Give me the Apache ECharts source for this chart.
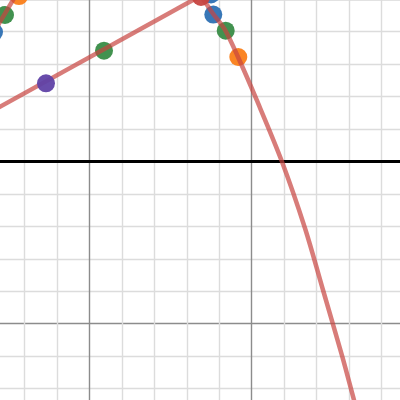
<!DOCTYPE html>
<html>
<head>
<meta charset="utf-8">
<script src="https://cdn.jsdelivr.net/npm/echarts@6/dist/echarts.min.js"></script>
<style>
  html, body { margin: 0; padding: 0; background: #ffffff; }
  #chart { width: 400px; height: 400px; }
</style>
</head>
<body>
<div id="chart"></div>
<script>
// Curve pieces (x, y in graph units)
var curveLeft = [[2.087, 1.603], [8.431, 5.111]];
var curveRight = [
  [8.431, 5.111], [8.560, 4.926], [8.816, 4.547], [9.177, 4.054],
  [9.578, 3.221], [10.154, 1.896], [10.925, 0.015], [11.643, -2.059],
  [12.207, -3.992], [12.793, -6.017], [13.153, -7.352], [13.246, -7.691]
];
var curveBranch = [[2.15, 4.15], [2.75, 5.16]];

// Points
var bluePoints = [[2.056, 3.99], [8.745, 5.148], [8.816, 4.531]];
var greenPoints = [[2.395, 4.516], [5.447, 3.416], [9.199, 4.032]];
var orangePoints = [[2.827, 5.10], [9.587, 3.221]];
var purplePoints = [[3.659, 2.41]];
var redPoints = [[8.437, 5.071]];

var chart = echarts.init(document.getElementById('chart'), null, { renderer: 'canvas' });

var curveStyle = { color: '#c74440', width: 4.5, opacity: 0.7 };
function dotSeries(data, color, z) {
  return {
    type: 'scatter', data: data, symbol: 'circle', symbolSize: 18,
    itemStyle: { color: color, opacity: 0.95 }, z: z, silent: true
  };
}

chart.setOption({
  animation: false,
  backgroundColor: '#ffffff',
  grid: {
    left: -72.7, right: -13.9, top: -162.9, bottom: -85.9,
    containLabel: false, outerBoundsMode: 'none'
  },
  xAxis: {
    type: 'value', min: 0, max: 15, interval: 5,
    axisLine: { show: true, onZero: true, lineStyle: { color: '#000000', width: 3 } },
    axisTick: { show: false },
    axisLabel: { show: false },
    splitLine: { show: true, lineStyle: { color: '#8c8c8c', width: 1.4 } },
    minorTick: { show: false, splitNumber: 5 },
    minorSplitLine: { show: true, lineStyle: { color: '#dcdcdc', width: 1.4 } }
  },
  yAxis: {
    type: 'value', min: -10, max: 10, interval: 5,
    axisLine: { show: false },
    axisTick: { show: false },
    axisLabel: { show: false },
    splitLine: { show: true, lineStyle: { color: '#8c8c8c', width: 1.4 } },
    minorTick: { show: false, splitNumber: 5 },
    minorSplitLine: { show: true, lineStyle: { color: '#dcdcdc', width: 1.4 } }
  },
  series: [
    dotSeries(bluePoints, '#2d70b3', 3),
    dotSeries(greenPoints, '#388c46', 3),
    dotSeries(orangePoints, '#fa7e19', 3),
    dotSeries(redPoints, '#c74440', 4),
    { type: 'line', data: curveLeft, symbol: 'none', lineStyle: curveStyle, z: 5, silent: true },
    { type: 'line', data: curveRight, symbol: 'none', smooth: 0.3, lineStyle: curveStyle, z: 5, silent: true },
    { type: 'line', data: curveBranch, symbol: 'none', lineStyle: curveStyle, z: 5, silent: true },
    dotSeries(purplePoints, '#6042a6', 6)
  ]
});
</script>
</body>
</html>
